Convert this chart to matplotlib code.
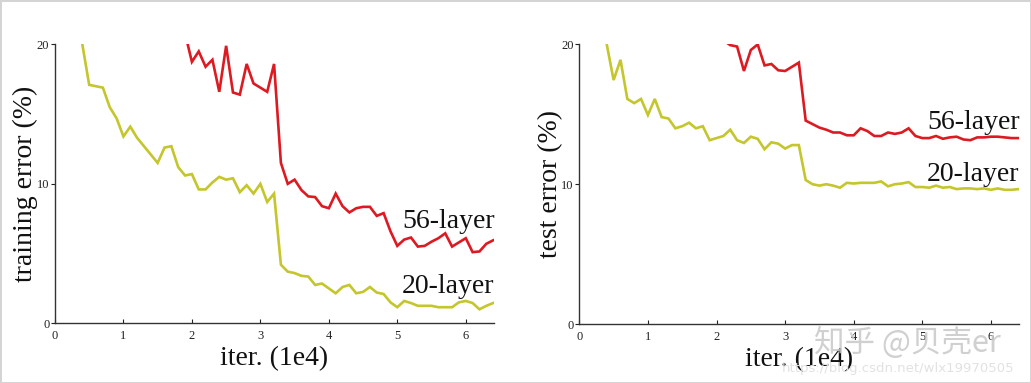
import numpy as np
import matplotlib
matplotlib.use("Agg")
import matplotlib.pyplot as plt

# ---------------- data ----------------
train20_x = [0.4, 0.5, 0.6, 0.7, 0.8, 0.9, 1.0, 1.1, 1.2, 1.3, 1.4, 1.5, 1.6, 1.7, 1.8, 1.9,
             2.0, 2.1, 2.2, 2.3, 2.4, 2.5, 2.6, 2.7, 2.8, 2.9, 3.0, 3.1, 3.2, 3.3, 3.4, 3.5,
             3.6, 3.7, 3.8, 3.9, 4.0, 4.1, 4.2, 4.3, 4.4, 4.5, 4.6, 4.7, 4.8, 4.9, 5.0, 5.1,
             5.2, 5.3, 5.4, 5.5, 5.6, 5.7, 5.8, 5.9, 6.0, 6.1, 6.2, 6.3, 6.4]
train20_y = [20.0, 17.1, 17.0, 16.9, 15.5, 14.7, 13.4, 14.1, 13.3, 12.7, 12.1, 11.5, 12.6, 12.7,
             11.2, 10.6, 10.7, 9.6, 9.6, 10.1, 10.5, 10.3, 10.4, 9.4, 9.9, 9.3, 10.0, 8.7, 9.3,
             4.2, 3.7, 3.6, 3.4, 3.35, 2.75, 2.85, 2.5, 2.15, 2.6, 2.75, 2.15, 2.25, 2.6, 2.2,
             2.1, 1.5, 1.15, 1.6, 1.45, 1.25, 1.25, 1.25, 1.15, 1.15, 1.15, 1.5, 1.6, 1.45,
             1.0, 1.25, 1.45]

train56_x = [1.9, 2.0, 2.1, 2.2, 2.3, 2.4, 2.5, 2.6, 2.7, 2.8, 2.9, 3.0, 3.1, 3.2, 3.3, 3.4,
             3.5, 3.6, 3.7, 3.8, 3.9, 4.0, 4.1, 4.2, 4.3, 4.4, 4.5, 4.6, 4.7, 4.8, 4.9, 5.0,
             5.1, 5.2, 5.3, 5.4, 5.5, 5.6, 5.7, 5.8, 5.9, 6.0, 6.1, 6.2, 6.3, 6.4]
train56_y = [20.8, 18.75, 19.5, 18.4, 18.9, 16.6, 19.9, 16.55, 16.4, 18.6, 17.2, 16.9, 16.6,
             18.6, 11.5, 10.0, 10.3, 9.55, 9.1, 9.05, 8.4, 8.25, 9.3, 8.4, 7.95, 8.25, 8.35,
             8.35, 7.7, 7.9, 6.6, 5.55, 6.0, 6.15, 5.5, 5.55, 5.85, 6.1, 6.45, 5.5, 5.8, 6.1,
             5.1, 5.15, 5.7, 5.95]

test20_x = train20_x
test20_y = [20.0, 17.45, 18.9, 16.1, 15.8, 16.1, 14.95, 16.1, 14.8, 14.7, 14.0, 14.15, 14.4,
            14.0, 14.15, 13.15, 13.3, 13.45, 13.9, 13.15, 12.95, 13.4, 13.25, 12.5, 13.0,
            12.9, 12.55, 12.8, 12.8, 10.3, 10.0, 9.9, 10.0, 9.9, 9.75, 10.1, 10.05, 10.1,
            10.1, 10.1, 10.2, 9.85, 10.0, 10.05, 10.15, 9.8, 9.8, 9.75, 9.9, 9.75, 9.8, 9.65,
            9.7, 9.7, 9.65, 9.7, 9.6, 9.7, 9.6, 9.6, 9.65]

test56_x = [2.1, 2.2, 2.3, 2.4, 2.5, 2.6, 2.7, 2.8, 2.9, 3.0, 3.1, 3.2, 3.3, 3.4, 3.5, 3.6,
            3.7, 3.8, 3.9, 4.0, 4.1, 4.2, 4.3, 4.4, 4.5, 4.6, 4.7, 4.8, 4.9, 5.0, 5.1, 5.2,
            5.3, 5.4, 5.5, 5.6, 5.7, 5.8, 5.9, 6.0, 6.1, 6.2, 6.3, 6.4]
test56_y = [20.3, 19.95, 19.85, 18.1, 19.6, 20.0, 18.5, 18.6, 18.15, 18.1, 18.4, 18.7, 14.55,
            14.3, 14.05, 13.9, 13.7, 13.7, 13.5, 13.5, 14.0, 13.8, 13.45, 13.45, 13.7, 13.6,
            13.7, 14.0, 13.45, 13.3, 13.3, 13.45, 13.25, 13.35, 13.4, 13.2, 13.15, 13.35,
            13.35, 13.4, 13.4, 13.35, 13.3, 13.3]

x_ticks = [0, 1, 2, 3, 4, 5, 6]
y_ticks = [0, 10, 20]
series_labels = ["56-layer", "20-layer"]
y_labels = ["training error (%)", "test error (%)"]
x_label = "iter. (1e4)"

# ---------------- style ----------------
RED = "#dd1a22"
YEL = "#c4c62c"
SERIF = "Liberation Serif"
plt.rcParams["font.family"] = [SERIF, "DejaVu Serif"]

fig = plt.figure(figsize=(10.31, 3.83), dpi=100)
fig.patch.set_facecolor("white")
fig.patch.set_edgecolor("#d4d4d4")
fig.patch.set_linewidth(2)

axL = fig.add_axes([0.0533, 0.156, 0.4257, 0.728])
axR = fig.add_axes([0.5619, 0.154, 0.4265, 0.730])

panels = [
    (axL, train56_x, train56_y, train20_x, train20_y, y_labels[0], (6.42, 6.85), (6.42, 2.15)),
    (axR, test56_x, test56_y, test20_x, test20_y, y_labels[1], (6.42, 13.95), (6.42, 10.25)),
]

for ax, x56, y56, x20, y20, ylab, pos56, pos20 in panels:
    ax.plot(x20, y20, color=YEL, lw=1.9, solid_joinstyle="miter")
    ax.plot(x56, y56, color=RED, lw=1.9, solid_joinstyle="miter")
    ax.set_xlim(0, 6.41)
    ax.set_ylim(0, 20)
    for s in ["top", "right"]:
        ax.spines[s].set_visible(False)
    for s in ["left", "bottom"]:
        ax.spines[s].set_color("#333333")
        ax.spines[s].set_linewidth(1.0)
    ax.set_xticks(x_ticks)
    ax.set_yticks(y_ticks)
    ax.set_xticklabels([str(t) for t in x_ticks])
    ax.set_yticklabels([str(t) for t in y_ticks])
    ax.tick_params(axis="x", direction="in", length=3, width=0.8, labelsize=9,
                   pad=5, colors="#222222")
    ax.tick_params(axis="y", direction="out", length=3, width=0.8, labelsize=9,
                   pad=1, colors="#222222")
    ax.set_xlabel(x_label, fontsize=20, labelpad=3, color="#111111")
    ax.set_ylabel(ylab, fontsize=20, labelpad=-1, color="#111111")
    ax.text(pos56[0], pos56[1], series_labels[0], fontsize=20, ha="right",
            va="baseline", color="#111111")
    ax.text(pos20[0], pos20[1], series_labels[1], fontsize=20, ha="right",
            va="baseline", color="#111111")

# watermark (present in the reference image, drawn over the axis texts)
fig.text(0.790, 0.080, "知乎 @贝壳er", fontsize=22, color="#c8c8c8", alpha=0.85,
         family=["Noto Sans CJK SC", "DejaVu Sans"], zorder=10)
fig.text(0.758, 0.030, "https://blog.csdn.net/wlx19970505", fontsize=9.5,
         color="#e2e2e2", family=["DejaVu Sans"], zorder=10)

fig.savefig("out.png", dpi=100, facecolor=fig.get_facecolor(),
            edgecolor=fig.get_edgecolor())
